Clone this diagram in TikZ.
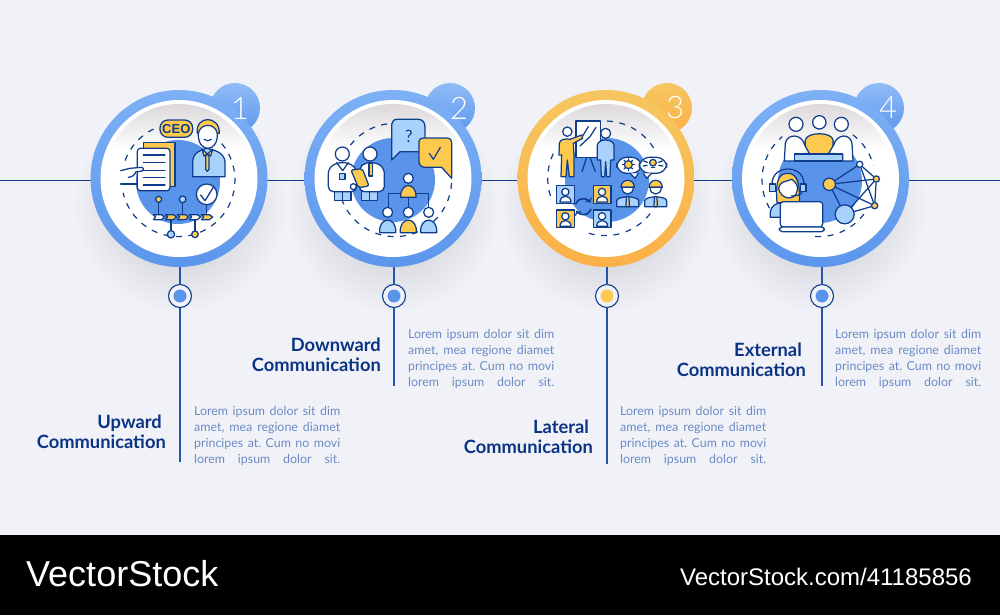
\documentclass[tikz,border=0pt]{standalone}
\usepackage{fontspec}
\setmainfont{Lato}
\newfontfamily\footfont{Liberation Sans}
\newfontfamily\numfont{Lato Light}
\usetikzlibrary{calc,positioning,shadings}
\definecolor{bgcol}{HTML}{F0F2F7}
\definecolor{inkcol}{HTML}{0F3D8C}
\definecolor{titlecol}{HTML}{0B3385}
\definecolor{bodycol}{HTML}{6C8BC6}
\definecolor{stemcol}{HTML}{2257A8}
\definecolor{disccol}{HTML}{5A94EA}
\definecolor{yelcol}{HTML}{FDCA4F}
\definecolor{lblcol}{HTML}{A8D2FB}
\definecolor{ringtop}{HTML}{7DB0F5}
\definecolor{ringbot}{HTML}{5C96EC}
\definecolor{goldtop}{HTML}{F6C660}
\definecolor{goldbot}{HTML}{FBB147}
\definecolor{rimgray}{HTML}{DCD8DB}
\definecolor{shadowcol}{HTML}{DADBE1}
\pgfdeclareverticalshading{facefade}{100bp}{color(0bp)=(white); color(60bp)=(white); color(75bp)=(rimgray); color(100bp)=(rimgray)}
\pgfdeclareradialshading{softshadow}{\pgfpointorigin}{color(0bp)=(shadowcol); color(13bp)=(shadowcol); color(25bp)=(bgcol); color(50bp)=(bgcol)}
\tikzset{
  ink/.style={draw=inkcol,line width=1.25pt,line join=round,line cap=round},
  dashring/.style={draw=inkcol,line width=1.2pt,dash pattern=on 6pt off 6.5pt},
  ringblue/.style={circle,inner sep=0pt,outer sep=0pt,minimum size=177pt,top color=ringtop,bottom color=ringbot},
  ringgold/.style={circle,inner sep=0pt,outer sep=0pt,minimum size=177pt,top color=goldtop,bottom color=goldbot},
  badgeblue/.style={circle,inner sep=0pt,minimum size=50pt,top color=ringtop!85!white,bottom color=ringbot},
  badgegold/.style={circle,inner sep=0pt,minimum size=50pt,top color=goldtop,bottom color=goldbot},
  rimwhite/.style={circle,inner sep=0pt,fill=white,minimum size=157pt},
  facegray/.style={circle,inner sep=0pt,minimum size=149pt,shade,shading=facefade},
  discblue/.style={circle,inner sep=0pt,fill=disccol,minimum size=84pt},
  numtext/.style={text=white,font=\numfont\fontsize{31}{31}\selectfont},
  dotring/.style={circle,inner sep=0pt,outer sep=0pt,minimum size=23pt,fill=bgcol,draw=inkcol,line width=1.1pt},
  dotcore/.style={circle,inner sep=0pt,minimum size=13pt,fill=#1},
  titletext/.style={anchor=east,align=right,text=titlecol,inner sep=0pt,font=\bfseries\fontsize{18.3}{19.6}\selectfont},
  bodytext/.style={anchor=north west,inner sep=0pt,text=bodycol,font=\fontsize{12.4}{16}\selectfont},
  netnode/.style={ink,circle,inner sep=0pt,minimum size=#1},
}
\frenchspacing
\newcommand{\loremblock}{\vbox{\baselineskip=16pt
  \hbox to 146pt{Lorem ipsum dolor sit dim}
  \hbox to 146pt{amet, mea regione diamet}
  \hbox to 146pt{principes at. Cum no movi}
  \hbox to 146pt{lorem ipsum dolor sit.}}}
% little person: head and shoulders
\newcommand{\tile}[3]{
  \draw[ink,fill=#3] (#1,#2) rectangle (#1+53,#2+53);
  \draw[ink,fill=white] (#1+10,#2+49) .. controls (#1+10,#2+26) and (#1+43,#2+26) .. (#1+43,#2+49) -- cycle;
  \draw[ink,fill=white] (#1+26,#2+19) circle (11);
}
\newcommand{\hardhat}[2]{
  \draw[ink,fill=lblcol] (#1-33,#2+58) -- (#1-33,#2+40) .. controls (#1-30,#2+25) and (#1+30,#2+25) .. (#1+33,#2+40) -- (#1+33,#2+58) -- cycle;
  \draw[ink,fill=yelcol] (#1-4,#2+28) -- (#1+4,#2+28) -- (#1+5,#2+58) -- (#1-5,#2+58) -- cycle;
  \draw[ink,fill=yelcol] (#1-20,#2) .. controls (#1-20,#2-28) and (#1+20,#2-28) .. (#1+20,#2) -- cycle;
  \draw[ink,fill=white] (#1-17,#2) .. controls (#1-17,#2+27) and (#1+17,#2+27) .. (#1+17,#2) -- cycle;
}

\begin{document}
\begin{tikzpicture}[x=1pt,y=-1pt]
\useasboundingbox (0,0) rectangle (1000,615);
\fill[bgcol] (0,0) rectangle (1000,615);
% soft shadows under the rings
\foreach \sx in {180,393,606,820}
   \shade[shading=softshadow] (\sx,206) circle (108);
\fill[black] (0,535) rectangle (1000,615);

\coordinate (lft) at (0,180);
\coordinate (rgt) at (1000,180);
\draw[inkcol,line width=1pt] (lft) -- (rgt);

% rings with their number badge
\foreach \rx/\bx/\nx/\rnum/\rkind in {179/235/240/1/blue,393/450/459/2/blue,606/667/675/3/gold,820.5/879/888/4/blue}{
   \node[badge\rkind] (b\rnum) at (\bx,108) {};
   \node[ring\rkind] (c\rnum) at (\rx,178.5) {};
   \node[rimwhite] (w\rnum) at (c\rnum) {};
   \node[facegray] (f\rnum) at (c\rnum) {};
   \node[numtext] (n\rnum) at (\nx,108) {\rnum};
}
\node[discblue] (disc1) at (178,182) {};
\node[discblue] (disc2) at (393,180) {};
\node[discblue] (disc3) at (607,180) {};
\node[discblue] (disc4) at (820,181) {};

% stems and dots
\foreach \dx/\ey/\dnum/\dcol in {180/462/1/disccol,394/386/2/disccol,607/464/3/yelcol,822/386/4/disccol}{
   \coordinate (e\dnum) at (\dx,\ey);
   \coordinate (t\dnum) at (\dx,267);
   \node[dotring] (d\dnum) at (\dx,296) {};
   \node[dotcore=\dcol] (k\dnum) at (d\dnum) {};
   \draw[stemcol,line width=1.4pt] (t\dnum) -- (d\dnum.north);
   \draw[stemcol,line width=1.4pt] (d\dnum.south) -- (e\dnum);
}

\node[titletext] (t_up) at (166,431.5) {Upward\hspace*{4pt}\\Communication};
\node[titletext] (t_down) at (381,355) {Downward\\Communication};
\node[titletext] (t_lat) at (593,436.5) {Lateral\hspace*{4pt}\\Communication};
\node[titletext] (t_ext) at (806,359.5) {External\hspace*{4pt}\\Communication};
\node[bodytext] (l1) at (194,406) {\loremblock};
\node[bodytext] (l2) at (408,329) {\loremblock};
\node[bodytext] (l3) at (620,406) {\loremblock};
\node[bodytext] (l4) at (835,329) {\loremblock};

% icon 1
\begin{scope}[shift={(80,80)},x=0.3333pt,y=-0.3333pt]
   \draw[dashring] (295,300)+(-40:170) arc[start angle=-40,end angle=167,radius=170];
   \draw[dashring] (295,300)+(200:170) arc[start angle=200,end angle=244,radius=170];
   \draw[ink,fill=yelcol,rounded corners=8pt] (240,120) rectangle (338,172);
   \node[text=inkcol,font=\footfont\bfseries\fontsize{13}{13}\selectfont] (ceo) at (289,146) {CEO};
   % person
   \draw[ink,fill=lblcol] (338,290) -- (338,245) .. controls (340,215) and (365,210) .. (380,205) .. controls (400,210) and (432,215) .. (435,245) -- (435,290) -- cycle;
   \draw[ink,fill=yelcol] (366,207) -- (382,222) -- (398,207) -- (392,228) -- (382,222) -- (372,228) -- cycle;
   \draw[ink,fill=yelcol] (377,225) -- (387,225) -- (387,268) -- (382,274) -- (377,268) -- cycle;
   \draw[ink,fill=yelcol] (352,160) .. controls (345,105) and (420,105) .. (418,160) -- cycle;
   \draw[ink,fill=white] (355,160) .. controls (352,220) and (415,220) .. (412,160) .. controls (405,128) and (362,128) .. (355,160) -- cycle;
   \draw[ink] (372,178) .. controls (378,184) and (388,184) .. (394,178);
   % sheets
   \draw[ink,fill=yelcol] (190,188) -- (285,188) -- (285,320) -- (190,320) -- cycle;
   \draw[ink,fill=white,rounded corners=3pt] (172,205) rectangle (270,332);
   \foreach \ly in {225,248,271,293,315}
      \draw[ink] (190,\ly) -- (255,\ly);
   \draw[ink,fill=white] (122,272) -- (150,265) -- (185,262) .. controls (195,265) and (190,275) .. (180,274) -- (168,275) .. controls (165,285) and (155,292) .. (145,292);
   \draw[ink] (122,312) -- (172,312);
   % timeline
   \draw[ink] (236,358) -- (236,405);
   \draw[ink] (308,358) -- (308,405);
   \draw[ink] (380,360) -- (380,405);
   \draw[ink] (273,418) -- (273,463);
   \draw[ink] (345,418) -- (345,463);
   \foreach \cx/\cfill in {220/white,256/yelcol,292/yelcol,328/white,364/yelcol}
      \draw[ink,fill=\cfill] (\cx,404) -- (\cx+24,404) -- (\cx+34,411) -- (\cx+24,419) -- (\cx,419) -- (\cx+7,411) -- cycle;
   \draw[ink,fill=yelcol] (236,358) circle (9);
   \draw[ink,fill=lblcol] (308,358) circle (10);
   \draw[ink,fill=lblcol] (273,463) circle (11);
   \draw[ink,fill=yelcol] (345,463) circle (10);
   \draw[ink,fill=white] (380,343) circle (31);
   \draw[ink,line width=1.3pt] (362,345) -- (375,362) -- (400,322);
\end{scope}

% icon 2
\begin{scope}[shift={(295,80)},x=0.3333pt,y=-0.3333pt]
   \draw[dashring] (300,300)+(218:170) arc[start angle=218,end angle=265,radius=170];
   \draw[dashring] (300,300)+(3:170) arc[start angle=3,end angle=158,radius=170];
   \draw[ink,fill=lblcol] (118,335) rectangle (168,362);
   \draw[ink] (143,335) -- (143,362);
   \draw[ink,fill=white,rounded corners=5pt] (100,335) -- (100,265) -- (125,248) -- (160,248) -- (185,265) -- (185,335) -- cycle;
   \draw[ink] (125,248) -- (143,272) -- (160,248);
   \draw[ink,fill=lblcol] (133,280) rectangle (150,298);
   \draw[ink,fill=white] (142,222) circle (21);
   \draw[ink,fill=lblcol] (200,335) rectangle (248,362);
   \draw[ink] (224,335) -- (224,362);
   \draw[ink,fill=white,rounded corners=5pt] (193,335) -- (193,265) -- (208,248) -- (245,248) -- (268,265) -- (268,335) -- cycle;
   \draw[ink,fill=yelcol] (222,250) rectangle (232,288);
   \draw[ink,fill=white] (225,222) circle (21);
   \draw[ink,fill=yelcol,rounded corners=2pt] (168,270) -- (202,266) -- (222,318) -- (190,323) -- cycle;
   \draw[ink,fill=white] (175,320) circle (9);
   % bubbles
   \draw[ink,fill=lblcol] (390,140) .. controls (390,125) and (380,118) .. (370,118) -- (305,118) .. controls (295,118) and (290,128) .. (290,138) -- (290,240) -- (315,215) -- (375,215) .. controls (385,215) and (390,205) .. (390,195) -- cycle;
   \node[text=inkcol,font=\fontsize{17}{17}\selectfont] (qmark) at (342,169) {?};
   \draw[ink,fill=yelcol] (372,185) .. controls (372,178) and (378,174) .. (385,174) -- (455,174) .. controls (465,174) and (470,180) .. (470,190) -- (470,295) -- (440,262) -- (390,262) .. controls (380,262) and (372,255) .. (372,245) -- cycle;
   \draw[ink,line width=1.2pt] (403,220) -- (415,238) -- (436,202);
   % org chart
   \draw[ink] (280,380) -- (280,340) -- (400,340) -- (400,380);
   \draw[ink] (340,340) -- (340,380);
   \draw[ink,fill=yelcol] (317,352) .. controls (315,305) and (365,305) .. (363,352) -- cycle;
   \draw[ink,fill=white] (340,295) circle (15);
   \foreach \ox/\ofill in {278/lblcol,340/yelcol,401/lblcol}{
      \draw[ink,fill=\ofill] (\ox-24,458) .. controls (\ox-28,408) and (\ox+28,408) .. (\ox+24,458) -- cycle;
      \draw[ink,fill=white] (\ox,397) circle (15);
   }
\end{scope}

% icon 3
\begin{scope}[shift={(510,80)},x=0.3333pt,y=-0.3333pt]
   \draw[dashring] (285,295)+(162:172) arc[start angle=162,end angle=208,radius=172];
   \draw[dashring] (285,295)+(272:172) arc[start angle=272,end angle=330,radius=172];
   \draw[dashring] (285,295)+(38:172) arc[start angle=38,end angle=112,radius=172];
   \draw[ink] (230,232) -- (216,275);
   \draw[ink] (240,232) -- (256,275);
   \draw[ink,fill=white] (198,123) rectangle (272,232);
   \draw[ink] (212,178) -- (235,140);
   \draw[ink] (210,198) -- (240,170) -- (258,142);
   \draw[ink,fill=yelcol] (147,225) -- (148,190) .. controls (150,178) and (165,175) .. (180,178) -- (215,165) -- (218,175) -- (190,190) -- (192,225) -- (192,290) -- (178,290) -- (172,240) -- (168,290) -- (153,290) -- (155,225) -- cycle;
   \draw[ink,fill=white] (172,155) circle (14);
   \draw[ink,fill=lblcol] (262,240) -- (262,195) .. controls (265,175) and (308,175) .. (312,195) -- (312,240) -- (302,240) -- (300,290) -- (290,290) -- (287,245) -- (284,290) -- (274,290) -- (272,240) -- cycle;
   \draw[ink,fill=white] (287,160) circle (15);
   \draw[ink,fill=white,rounded corners=10pt] (320,232) rectangle (395,280);
   \draw[ink,fill=white] (360,280) -- (375,295) -- (385,280);
   \draw[ink,fill=white,rounded corners=10pt] (388,232) rectangle (470,280);
   \draw[ink,fill=white] (400,280) -- (410,295) -- (425,280);
   \draw[ink,fill=yelcol] (355,254) circle (12);
   \foreach \ra in {0,45,...,315}
      \draw[ink] (355,254)+(\ra:13) -- +(\ra:18);
   \draw[ink,fill=yelcol] (429,248) circle (10);
   \draw[ink] (424,262) -- (434,262);
   \foreach \ra in {170,200,-20,10}
      \draw[ink] (429,253)+(\ra:18) -- +(\ra:30);
   \hardhat{353}{322}
   \hardhat{437}{322}
   \tile{140}{317}{lblcol}
   \tile{250}{317}{yelcol}
   \tile{140}{390}{yelcol}
   \tile{250}{390}{lblcol}
   \draw[ink,line width=1.6pt,->] (220,380)+(200:24) arc[start angle=200,end angle=330,radius=24];
   \draw[ink,line width=1.6pt,->] (220,380)+(20:24) arc[start angle=20,end angle=150,radius=24];
\end{scope}

% icon 4
\begin{scope}[shift={(722,80)},x=0.3333pt,y=-0.3333pt]
   \draw[dashring] (290,300)+(150:170) arc[start angle=150,end angle=230,radius=170];
   \draw[dashring] (290,300)+(-53:170) arc[start angle=-53,end angle=-15,radius=170];
   \draw[dashring] (290,300)+(37:170) arc[start angle=37,end angle=98,radius=170];
   % table group
   \draw[ink,fill=yelcol] (250,222) -- (250,180) .. controls (255,155) and (330,155) .. (333,180) -- (333,222) -- cycle;
   \draw[ink,fill=white] (187,243) -- (190,190) .. controls (195,160) and (240,160) .. (248,195) -- (262,220) -- (218,222) -- (218,243) -- cycle;
   \draw[ink,fill=white] (393,243) -- (390,190) .. controls (385,160) and (345,160) .. (335,195) -- (320,220) -- (362,222) -- (362,243) -- cycle;
   \draw[ink,fill=lblcol] (218,222) rectangle (362,243);
   \draw[ink,fill=white] (222,133) circle (21);
   \draw[ink,fill=white] (292,127) circle (20);
   \draw[ink,fill=white] (358,133) circle (21);
   % operator
   \draw[ink,fill=lblcol] (145,412) -- (145,395) .. controls (148,375) and (165,370) .. (178,368) -- (178,412) -- cycle;
   \draw[ink,fill=yelcol] (165,368) .. controls (160,300) and (170,280) .. (198,280) .. controls (225,280) and (235,310) .. (232,368) -- cycle;
   \draw[ink,fill=white] (170,325) .. controls (172,305) and (190,305) .. (210,298) .. controls (225,310) and (228,320) .. (226,330) .. controls (222,365) and (175,360) .. (170,325) -- cycle;
   \draw[ink] (150,312) .. controls (150,252) and (246,252) .. (246,312);
   \draw[ink,fill=lblcol] (142,312) rectangle (160,335);
   \draw[ink,fill=lblcol] (235,312) rectangle (252,335);
   \draw[ink] (240,335) .. controls (238,345) and (225,348) .. (208,348);
   \draw[ink,fill=white,rounded corners=3pt] (175,365) rectangle (302,441);
   \draw[ink,fill=white,rounded corners=3pt] (172,441) rectangle (307,455);
   % network
   \node[netnode=12.3pt,fill=yelcol] (na) at (322,313) {};
   \node[netnode=6.3pt,fill=white] (nb) at (413,253) {};
   \node[netnode=6.3pt,fill=yelcol] (nc) at (463,297) {};
   \node[netnode=6.3pt,fill=yelcol] (nd) at (458,377) {};
   \node[netnode=19pt,fill=lblcol] (ne) at (368,403) {};
   \foreach \na/\nb in {na/nb,na/nc,na/nd,na/ne,nb/nc,nb/nd,nc/nd,nc/ne,nd/ne}
      \draw[ink] (\na) -- (\nb);
\end{scope}

% footer
\node[anchor=west,text=white,inner sep=0pt,font=\footfont\fontsize{36}{36}\selectfont] (brand) at (26,574) {VectorStock};
\node[anchor=east,text=white,inner sep=0pt,font=\footfont\fontsize{24}{24}\selectfont] (ref) at (972,577) {VectorStock.com/41185856};
\end{tikzpicture}
\end{document}
